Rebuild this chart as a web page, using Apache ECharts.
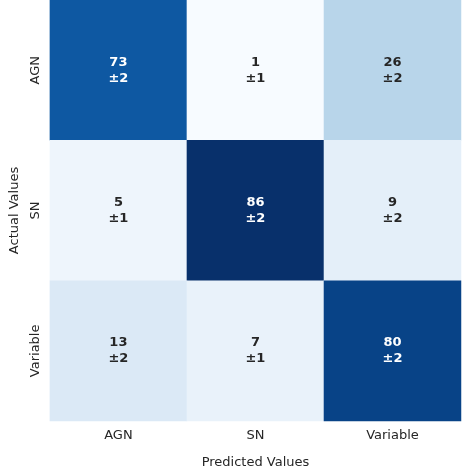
<!DOCTYPE html>
<html><head><meta charset="utf-8">
<script src="https://cdn.jsdelivr.net/npm/echarts@6/dist/echarts.min.js"></script>
<style>html,body{margin:0;padding:0;background:#fff}#c{width:474px;height:474px}</style>
</head><body><div id="c"></div>
<script>
const xCats = ['AGN','SN','Variable'];
const yCats = ['AGN','SN','Variable'];
const values = [[73,1,26],[5,86,9],[13,7,80]];
const errors = [[2,1,2],[1,2,2],[2,1,2]];
const blues = ['#f7fbff','#deebf7','#c6dbef','#9ecae1','#6baed6','#4292c6','#2171b5','#08519c','#08306b'];
const data = [];
for (let r=0;r<3;r++) for (let c=0;c<3;c++) data.push([c,r,values[r][c],errors[r][c]]);
const chart = echarts.init(document.getElementById('c'));
const font = 'DejaVu Sans';
chart.setOption({
  animation:false,
  textStyle:{fontFamily:font},
  grid:{left:40,right:13,top:0,bottom:48},
  xAxis:{type:'category',data:xCats,name:'Predicted Values',nameLocation:'middle',nameGap:35,
    nameTextStyle:{fontSize:13,color:'#262626',fontFamily:font},
    axisLine:{show:false},axisTick:{show:false},splitLine:{show:false},
    axisLabel:{fontSize:13,color:'#262626',margin:8,fontFamily:font}},
  yAxis:{type:'category',data:yCats,inverse:true,name:'Actual Values',nameLocation:'middle',nameGap:26,
    nameTextStyle:{fontSize:13,color:'#262626',fontFamily:font},
    axisLine:{show:false},axisTick:{show:false},splitLine:{show:false},
    axisLabel:{fontSize:13,color:'#262626',rotate:90,margin:8,fontFamily:font}},
  visualMap:{show:false,min:1,max:86,dimension:2,inRange:{color:blues}},
  series:[{type:'heatmap',data:data,
    label:{show:true,fontSize:13,fontWeight:'bold',fontFamily:font,lineHeight:16,
      formatter:p=>p.value[2]+'\n±'+p.value[3],
      color:'#262626'},
    labelLayout:null}]
});
// white labels for dark cells
chart.setOption({series:[{data:data.map(d=>({value:d,label:{color:d[2]>50?'#ffffff':'#262626'}}))}]});
</script></body></html>
